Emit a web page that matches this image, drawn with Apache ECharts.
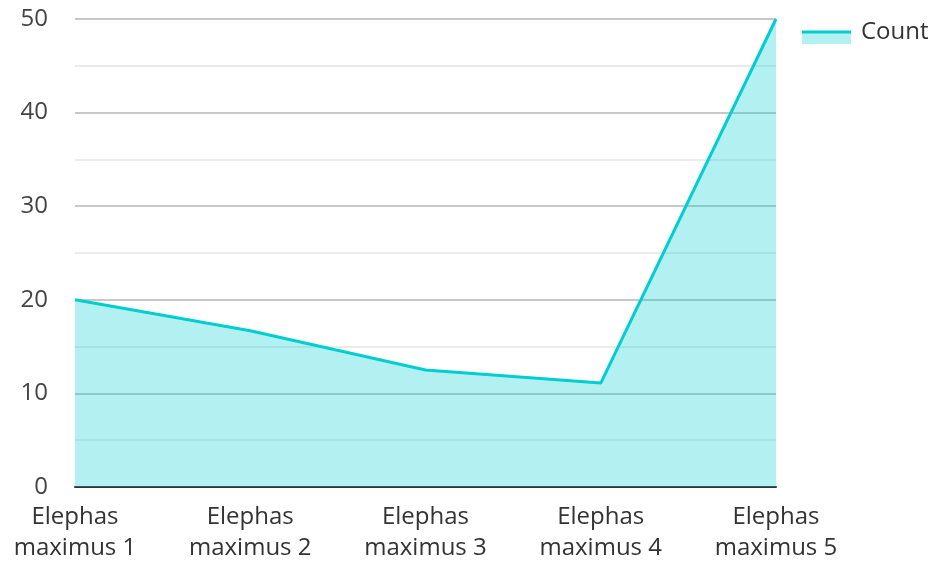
<!DOCTYPE html>
<html>
<head>
<meta charset="utf-8">
<script src="https://cdn.jsdelivr.net/npm/echarts@6/dist/echarts.min.js"></script>
<style>
  html, body { margin: 0; padding: 0; background: #fff; }
  #chart { width: 934px; height: 561px; }
</style>
</head>
<body>
<div id="chart"></div>
<script>
// Specimen labels along the x axis
const categories = ['Elephas\nmaximus 1', 'Elephas\nmaximus 2', 'Elephas\nmaximus 3', 'Elephas\nmaximus 4', 'Elephas\nmaximus 5'];
// Count per specimen
const counts = [20, 16.7, 12.5, 11.1, 50];
const seriesName = 'Count';

const lineColor = '#00CED1';
const areaFill = 'rgba(0, 206, 209, 0.3)';
const fontFamily = '"Open Sans", "Noto Sans", sans-serif';

const chart = echarts.init(document.getElementById('chart'), null, { renderer: 'canvas' });

chart.setOption({
  animation: false,
  textStyle: { fontFamily: fontFamily },
  grid: { left: 75, right: 158, top: 19, bottom: 74, containLabel: false, outerBoundsMode: 'none' },
  legend: {
    left: 802,
    top: 20,
    padding: 0,
    icon: 'rect',
    itemWidth: 49,
    itemHeight: 3,
    itemStyle: { color: lineColor },
    textStyle: { fontSize: 24, color: '#333', fontFamily: fontFamily, padding: [0, 0, 0, 5] },
    data: [seriesName]
  },
  // light band under the legend line, standing for the filled area
  graphic: [{
    type: 'rect',
    left: 802,
    top: 33,
    shape: { width: 49, height: 11 },
    style: { fill: areaFill },
    silent: true
  }],
  xAxis: {
    type: 'category',
    data: categories,
    boundaryGap: false,
    axisLine: { show: true, lineStyle: { color: '#333', width: 2 } },
    axisTick: { show: false },
    splitLine: { show: false },
    axisLabel: {
      color: '#333',
      fontSize: 24,
      lineHeight: 31,
      margin: 15,
      fontFamily: fontFamily
    }
  },
  yAxis: {
    type: 'value',
    min: 0,
    max: 50,
    interval: 10,
    axisLine: { show: false },
    axisTick: { show: false },
    axisLabel: { color: '#444', fontSize: 24, margin: 27, fontFamily: fontFamily },
    splitLine: { show: true, lineStyle: { color: '#c8c8c8', width: 2 } },
    minorTick: { show: false, splitNumber: 2 },
    minorSplitLine: { show: true, lineStyle: { color: '#ebebeb', width: 2 } }
  },
  series: [{
    name: seriesName,
    type: 'line',
    data: counts,
    showSymbol: false,
    symbol: 'none',
    lineStyle: { color: lineColor, width: 3 },
    itemStyle: { color: lineColor },
    areaStyle: { color: lineColor, opacity: 0.3 }
  }]
});
</script>
</body>
</html>
